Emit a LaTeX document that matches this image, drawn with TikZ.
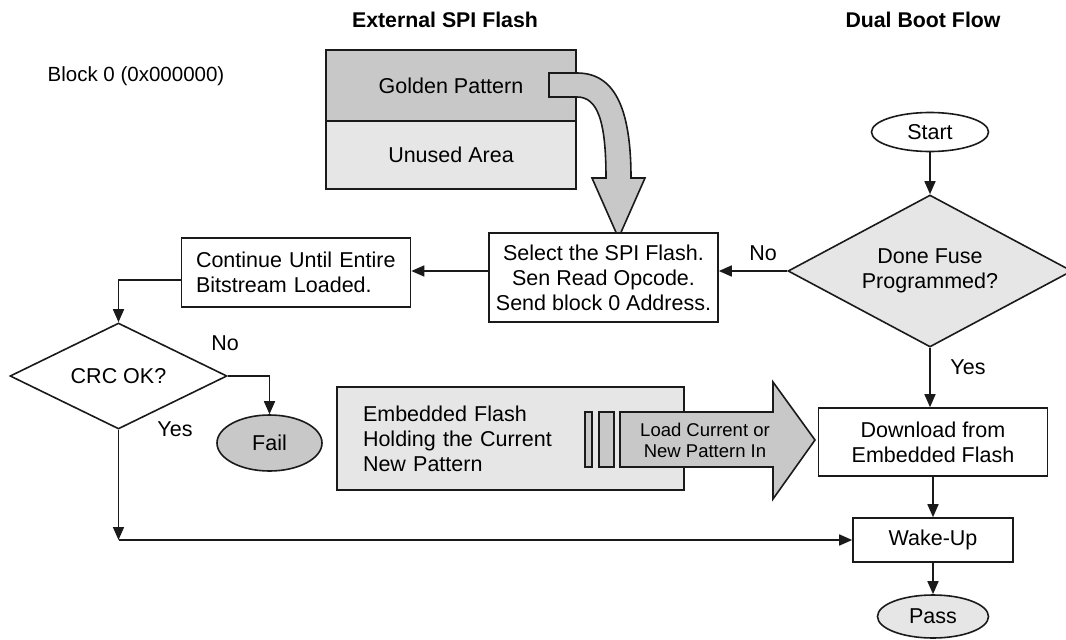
\documentclass[tikz,border=0pt]{standalone}
\usepackage{fontspec}
\setmainfont{Liberation Sans}
\usepackage{tikz}
\usetikzlibrary{arrows.meta,positioning,shapes.geometric}
\definecolor{dbgray}{HTML}{C8C8C8}
\definecolor{dbpale}{HTML}{E6E6E6}
\definecolor{dbline}{HTML}{1A1A1A}

\begin{document}
\begin{tikzpicture}[
 x=1pt,y=-1pt,>={Triangle[length=13pt,width=11pt]},
 font=\fontsize{21.5}{25}\selectfont,line width=1.6pt,
 title/.style={font=\fontsize{21.3}{25}\selectfont\bfseries},
 memcell/.style={draw=dbline,minimum width=250pt,inner sep=0pt},
 procbox/.style={draw=dbline,fill=white,align=center,inner sep=0pt},
 decision/.style={draw=dbline,diamond,inner sep=0pt,align=center},
 terminal/.style={draw=dbline,ellipse,inner sep=0pt},
 bigarrow/.style={draw=dbline,fill=dbgray,line join=miter},
 flow/.style={->,dbline}
]
\useasboundingbox (0,0) rectangle (1066,640);
% headings
\node[title] (spititle) at (445,20) {External SPI Flash};
\node[title] (flowtitle) at (923,20) {Dual Boot Flow};
\node[font=\fontsize{20.5}{25}\selectfont] (blocklbl) at (136,76) {Block 0 (0x000000)};
% external flash contents
\node[memcell,fill=dbgray,minimum height=71pt] (golden) at (451,85.5) {Golden Pattern};
\node[memcell,fill=dbpale,minimum height=68pt] (unused) at (451,155) {Unused Area};
\draw[bigarrow] (549,73) -- (577,73) .. controls (613,73) and (631,105) .. (631,178)
 -- (645,178) -- (618.5,238) -- (592,178) -- (606,178)
 .. controls (606,122) and (598,97) .. (577,97) -- (549,97) -- cycle;
% left branch
\node[procbox,minimum width=229pt,minimum height=89pt] (select) at (603.5,277.5)
 {Select the SPI Flash.\\Sen Read Opcode.\\Send block 0 Address.};
\node[procbox,minimum width=229pt,minimum height=69pt,text width=200pt,align=left]
 (cont) at (296,272.5) {Continue Until Entire\\Bitstream Loaded.};
\node[decision,minimum width=217pt,minimum height=106pt,aspect=2.05] (crc) at (118.5,376) {CRC OK?};
\node[terminal,fill=dbgray,minimum width=105pt,minimum height=56pt] (fail) at (269.5,443) {Fail};
\node (crcno) at (225,343) {No};
\node (crcyes) at (175,429) {Yes};
% embedded flash
\node[draw=dbline,fill=dbpale,minimum width=347pt,minimum height=103pt,
 text width=295pt,align=left,inner sep=0pt] (embflash) at (510.5,438.5)
 {Embedded Flash\\Holding the Current\\New Pattern};
\draw[bigarrow] (585,412) rectangle (592,467);
\draw[bigarrow] (599,412) rectangle (614,467);
\draw[bigarrow] (620,412) -- (773,412) -- (773,382) -- (815,440) -- (773,499)
 -- (773,467) -- (620,467) -- cycle;
\node[align=center,font=\fontsize{18.5}{21}\selectfont] (loadlbl) at (705,440)
 {Load Current or\\New Pattern In};
% right branch
\node[terminal,fill=white,minimum width=117pt,minimum height=39pt] (start) at (930,132) {Start};
\node[decision,fill=dbpale,minimum width=284pt,minimum height=152pt,aspect=1.87]
 (done) at (930,271) {Done Fuse\\Programmed?};
\node (doneno) at (763,253) {No};
\node (doneyes) at (968,367) {Yes};
\node[procbox,minimum width=229pt,minimum height=68pt] (download) at (933,442)
 {Download from\\Embedded Flash};
\node[procbox,minimum width=160pt,minimum height=44pt] (wake) at (933,540) {Wake-Up};
\node[terminal,fill=dbpale,minimum width=111pt,minimum height=43pt] (pass) at (933,616.5) {Pass};
\coordinate (yescorner) at (crc.south |- wake.west);
% connectors
\draw[flow] (start.south) -- (done.north);
\draw[flow] (done.west) -- (done.west -| select.east);
\draw[flow] (done.west -| select.west) -- (done.west -| cont.east);
\draw[flow] ([yshift=-7.5pt]cont.west) -| (crc.north);
\draw[flow] (crc.east) -| (fail.north);
\draw[flow] (crc.south) -- (yescorner);
\draw[flow] (yescorner) -- (wake.west);
\draw[flow] (done.south) -- (done.south |- download.north);
\draw[flow] (download.south) -- (wake.north);
\draw[flow] (wake.south) -- (pass.north);
\end{tikzpicture}
\end{document}
